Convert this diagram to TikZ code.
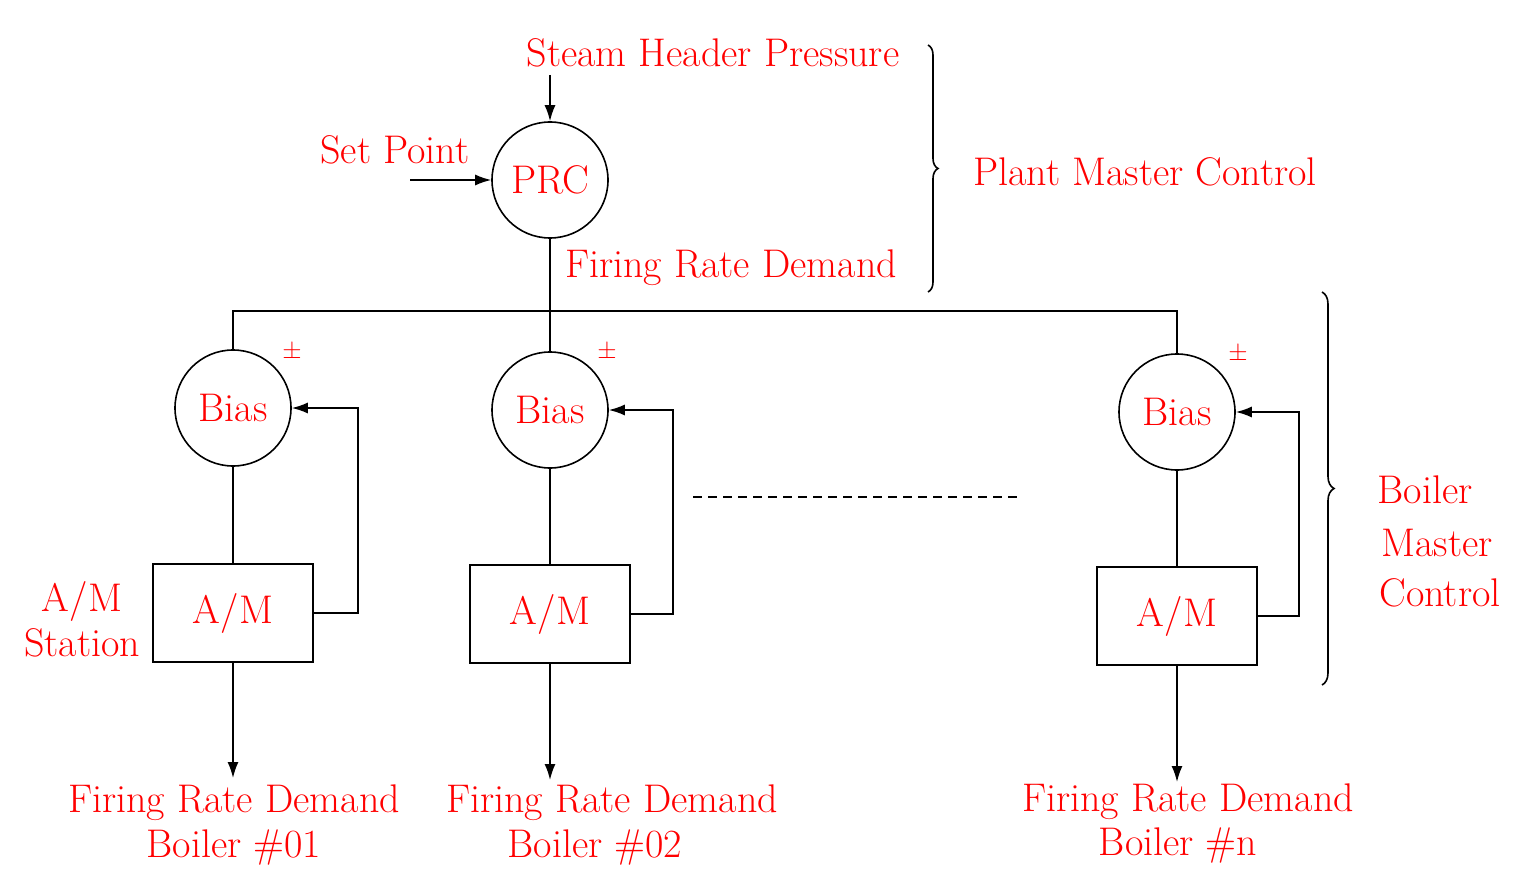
\documentclass[tikz,border=0pt]{standalone}
\usepackage{fontspec}
\usetikzlibrary{arrows.meta,decorations.pathreplacing}
\begin{document}
\begin{tikzpicture}[x=1pt,y=-1pt,
 lbl/.style={text=red,font=\fontsize{40}{44}\selectfont,inner sep=0pt},
 circ/.style={draw,circle,line width=1.6pt,minimum size=116pt,inner sep=0pt,text=red,font=\fontsize{40}{44}\selectfont},
 box/.style={draw,line width=1.6pt,minimum width=160pt,minimum height=98pt,text=red,font=\fontsize{40}{44}\selectfont},
 ln/.style={line width=1.6pt},
 arr/.style={ln,-{Latex[length=16pt,width=11pt]}}]
\useasboundingbox (0,0) rectangle (1536,893);
\node[lbl] (shp) at (713,53) {Steam Header Pressure};
\node[circ] (prc) at (550,180) {PRC};
\node[lbl] (sp) at (395,150) {Set Point};
\node[lbl] (frd) at (731,268) {Firing Rate Demand};
\coordinate (spin) at (410,180);
\coordinate (shpin) at (550,75);
\draw[arr] (shpin) -- (prc.north);
\draw[arr] (spin) -- (prc.west);
\node[circ] (b1) at (233,408) {Bias};
\node[circ] (b2) at (550,410) {Bias};
\node[circ] (b3) at (1177,412) {Bias};
\coordinate (h1) at (233,311);
\coordinate (h2) at (550,311);
\coordinate (h3) at (1177,311);
\draw[ln] (prc.south) -- (h2);
\draw[ln] (b1.north) -- (h1) -- (h2) -- (h3) -- (b3.north);
\draw[ln] (h2) -- (b2.north);
\node[lbl,font=\fontsize{34}{36}\selectfont] (pm1) at (292,352) {$\pm$};
\node[lbl,font=\fontsize{34}{36}\selectfont] (pm2) at (607,352) {$\pm$};
\node[lbl,font=\fontsize{34}{36}\selectfont] (pm3) at (1238,354) {$\pm$};
\node[box] (a1) at (233,613) {A/M};
\node[box] (a2) at (550,614) {A/M};
\node[box] (a3) at (1177,616) {A/M};
\draw[ln] (b1) -- (a1);
\draw[ln] (b2) -- (a2);
\draw[ln] (b3) -- (a3);
\draw[arr] (a1.east) -| (358,408) -- (b1.east);
\draw[arr] (a2.east) -| (673,410) -- (b2.east);
\draw[arr] (a3.east) -| (1299,412) -- (b3.east);
\coordinate (o1) at (233,778);
\coordinate (o2) at (550,780);
\coordinate (o3) at (1177,782);
\draw[arr] (a1.south) -- (o1);
\draw[arr] (a2.south) -- (o2);
\draw[arr] (a3.south) -- (o3);
\node[lbl] (f1) at (234,803) {Firing Rate Demand};
\node[lbl] (g1) at (234,848) {Boiler \#01};
\node[lbl] (f2) at (612,803) {Firing Rate Demand};
\node[lbl] (g2) at (595,848) {Boiler \#02};
\node[lbl] (f3) at (1188,802) {Firing Rate Demand};
\node[lbl] (g3) at (1178,846) {Boiler \#n};
\node[lbl] (st1) at (82,601) {A/M};
\node[lbl] (st2) at (82,643) {Station};
\coordinate (d1) at (693,497);
\coordinate (d2) at (1018,497);
\draw[ln,dash pattern=on 9pt off 6pt] (d1) -- (d2);
\draw[ln,decorate,decoration={brace,amplitude=10pt}] (928,45) -- (928,292);
\node[lbl] (pmc) at (1145,172) {Plant Master Control};
\draw[ln,decorate,decoration={brace,amplitude=12pt}] (1322,292) -- (1322,685);
\node[lbl] (bm1) at (1425,490) {Boiler};
\node[lbl] (bm2) at (1437,543) {Master};
\node[lbl] (bm3) at (1440,593) {Control};
\end{tikzpicture}
\end{document}
